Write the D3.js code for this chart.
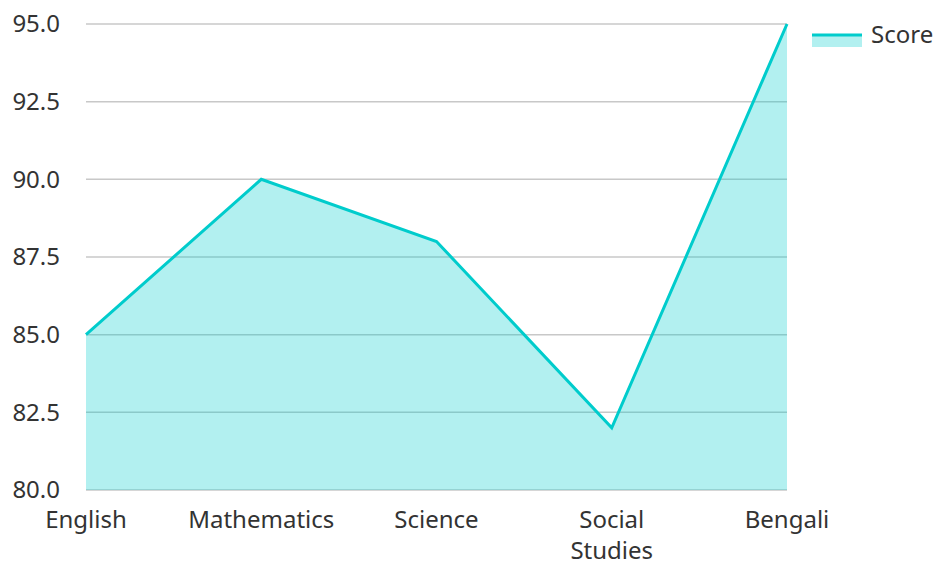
<!DOCTYPE html>
<html>
<head>
<meta charset="utf-8">
<script src="https://cdn.jsdelivr.net/npm/d3@7"></script>
<style>
  body { margin: 0; background: #fff; }
  text { font-family: "Noto Sans", "Open Sans", sans-serif; fill: #333; }
</style>
</head>
<body>
<svg id="canvas" width="936" height="563"></svg>
<script>
const subjects = ["English", "Mathematics", "Science", "Social Studies", "Bengali"];
const scores = [85, 90, 88, 82, 95];
const y_ticks = [80, 82.5, 85, 87.5, 90, 92.5, 95];
const series_name = "Score";

const svg = d3.select("svg#canvas");
const plot_left = 86, plot_right = 787, plot_top = 24, plot_bottom = 490;
const line_col = "#00cccc";
const fs = 24;

const x = d3.scalePoint().domain(subjects).range([plot_left, plot_right]);
const y = d3.scaleLinear().domain([80, 95]).range([plot_bottom, plot_top]);

// grid
svg.append("g")
    .selectAll("line")
    .data(y_ticks)
    .join("line")
    .attr("x1", plot_left)
    .attr("x2", plot_right)
    .attr("y1", d => y(d))
    .attr("y2", d => y(d))
    .attr("stroke", "#c8c8c8")
    .attr("stroke-width", 1.5);

// y labels
svg.append("g")
    .selectAll("text")
    .data(y_ticks)
    .join("text")
    .attr("x", 60)
    .attr("y", d => y(d))
    .attr("dy", "0.35em")
    .attr("text-anchor", "end")
    .attr("font-size", fs)
    .text(d => d.toFixed(1));

// x labels (wrap multi-word)
const xl = svg.append("g")
    .selectAll("text")
    .data(subjects)
    .join("text")
    .attr("x", d => x(d))
    .attr("y", 528)
    .attr("text-anchor", "middle")
    .attr("font-size", fs);
xl.each(function (d) {
    const words = d.split(" ");
    d3.select(this).selectAll("tspan")
        .data(words)
        .join("tspan")
        .attr("x", x(d))
        .attr("dy", (_, i) => i == 0 ? 0 : 31)
        .text(w => w);
});

const pts = subjects.map((s, i) => [s, scores[i]]);

svg.append("path")
    .datum(pts)
    .attr("d", d3.area().x(d => x(d[0])).y0(plot_bottom).y1(d => y(d[1])))
    .attr("fill", line_col)
    .attr("fill-opacity", 0.3);

svg.append("path")
    .datum(pts)
    .attr("d", d3.line().x(d => x(d[0])).y(d => y(d[1])))
    .attr("fill", "none")
    .attr("stroke", line_col)
    .attr("stroke-width", 3);

// legend
const lg = svg.append("g").attr("transform", "translate(812, 35)");
lg.append("rect")
    .attr("x", 0).attr("y", 0).attr("width", 50).attr("height", 12)
    .attr("fill", line_col).attr("fill-opacity", 0.3);
lg.append("line")
    .attr("x1", 0).attr("x2", 50).attr("y1", 0).attr("y2", 0)
    .attr("stroke", line_col).attr("stroke-width", 3);
lg.append("text")
    .attr("x", 59).attr("y", 0).attr("dy", "0.35em")
    .attr("font-size", fs)
    .text(series_name);
</script>
</body>
</html>
